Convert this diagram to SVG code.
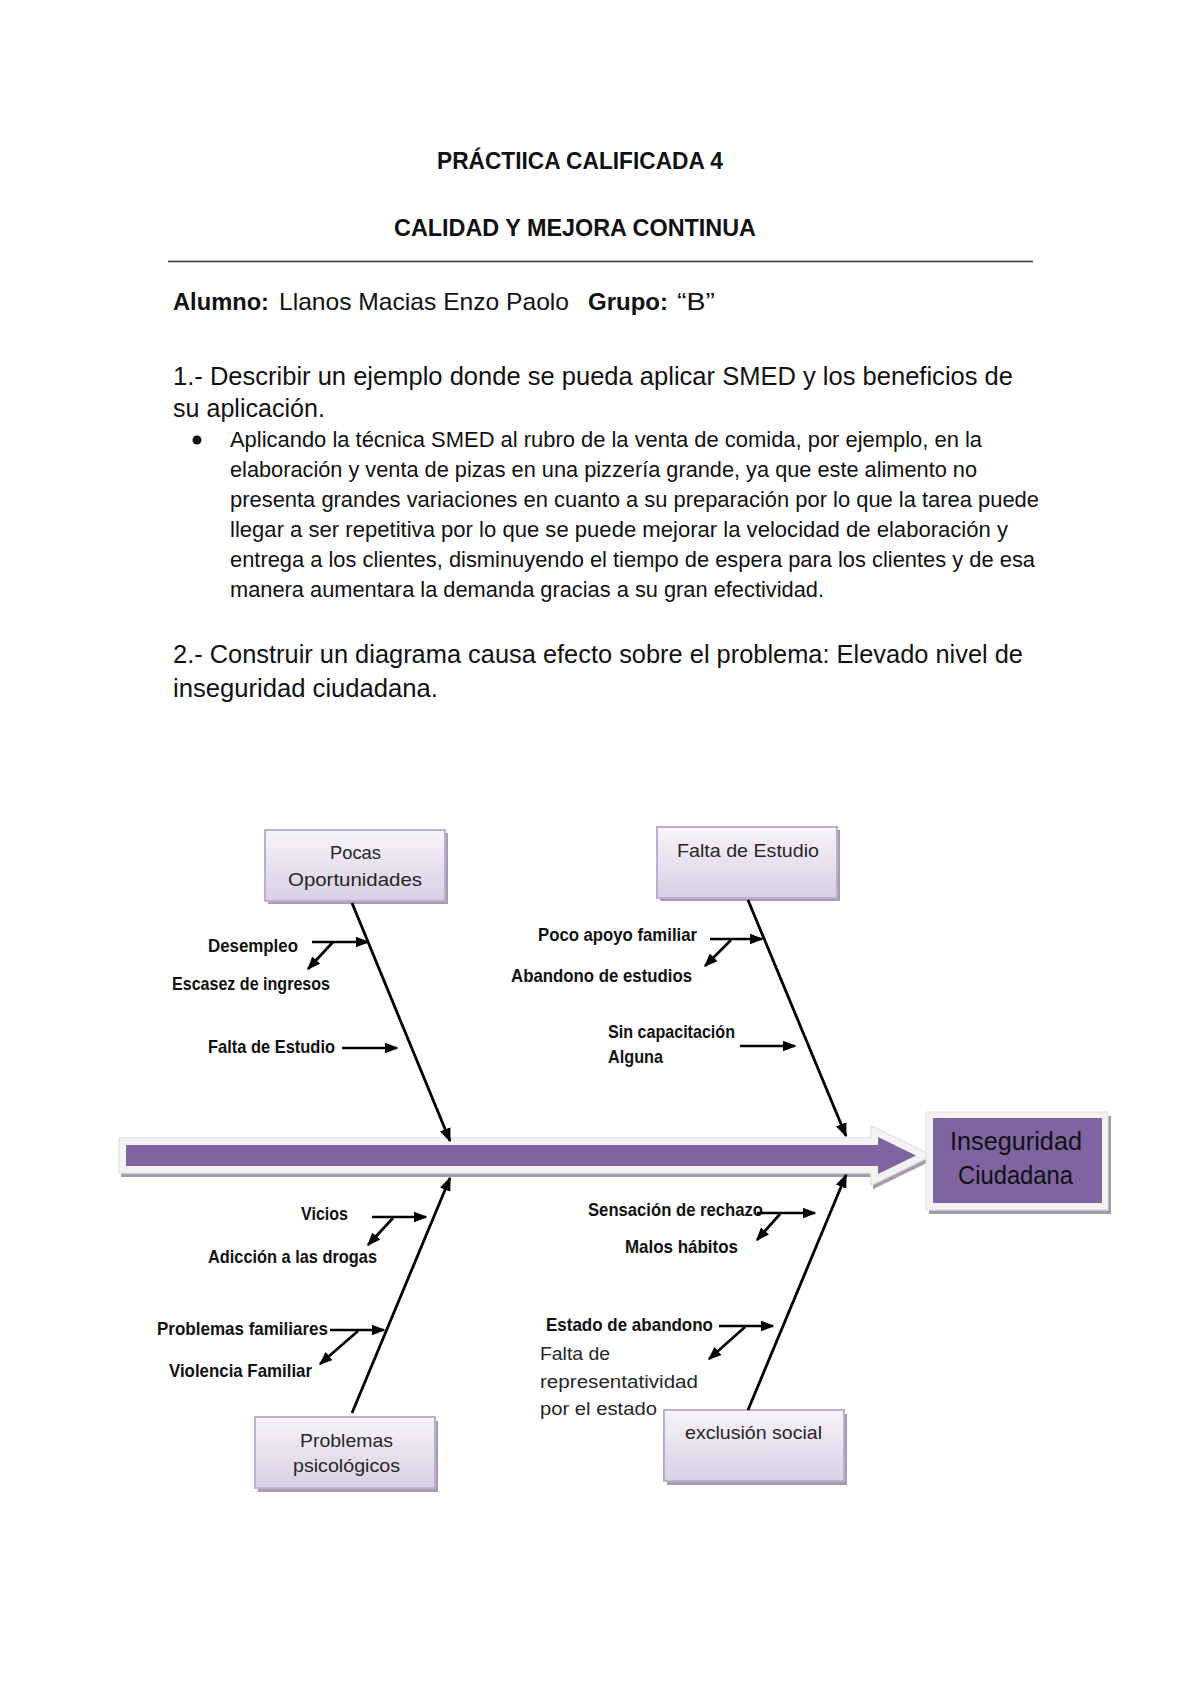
<svg xmlns="http://www.w3.org/2000/svg" width="1200" height="1698" viewBox="0 0 1200 1698">
<defs>
<linearGradient id="boxg" x1="0" y1="0" x2="0" y2="1">
<stop offset="0" stop-color="#f7f4fa"/>
<stop offset="1" stop-color="#d9cfe5"/>
</linearGradient>
<marker id="ah" viewBox="0 0 10 8" refX="9" refY="4" markerWidth="5" markerHeight="4.2" orient="auto" markerUnits="strokeWidth">
<path d="M0,0 L10,4 L0,8 z" fill="#000"/>
</marker>
<style>
.doc{font-family:"Liberation Sans",Arial,sans-serif;fill:#111;}
.b{font-weight:bold;}
.t1{font-size:23px;font-weight:bold;}
.big{font-size:25.5px;}
.al{font-size:24px;}
.bul{font-size:22px;}
.lbl{font-family:"Liberation Sans",Arial,sans-serif;font-size:18.5px;font-weight:bold;fill:#111;}
.reg{font-family:"Liberation Sans",Arial,sans-serif;font-size:17.5px;fill:#262626;}
.bx{fill:url(#boxg);stroke:#bcaed0;stroke-width:2;}
.bxs{fill:#a79cb4;}
.bxt{font-family:"Liberation Sans",Arial,sans-serif;font-size:18.5px;fill:#262626;}
.bone{stroke:#000;stroke-width:2.8;fill:none;marker-end:url(#ah);}
.sm{stroke:#000;stroke-width:2.7;fill:none;marker-end:url(#ah);}
</style>
</defs>
<rect width="1200" height="1698" fill="#fff"/>

<g id="header" class="doc">
<text class="t1" x="437" y="169" textLength="286" lengthAdjust="spacingAndGlyphs">PRÁCTIICA CALIFICADA 4</text>
<text class="t1" x="394" y="236" textLength="362" lengthAdjust="spacingAndGlyphs">CALIDAD Y MEJORA CONTINUA</text>
<line x1="168" y1="261.5" x2="1033" y2="261.5" stroke="#333" stroke-width="1.4"/>
<text class="al b" x="173" y="310" textLength="96" lengthAdjust="spacingAndGlyphs">Alumno:</text>
<text class="al" x="279" y="310" textLength="290" lengthAdjust="spacingAndGlyphs">Llanos Macias Enzo Paolo</text>
<text class="al b" x="588" y="310" textLength="80" lengthAdjust="spacingAndGlyphs">Grupo:</text>
<text class="al" x="677" y="310" textLength="38" lengthAdjust="spacingAndGlyphs">“B”</text>
<text class="big" x="173" y="385" textLength="840" lengthAdjust="spacingAndGlyphs">1.- Describir un ejemplo donde se pueda aplicar SMED y  los beneficios de</text>
<text class="big" x="173" y="417" textLength="152" lengthAdjust="spacingAndGlyphs">su aplicación.</text>
<circle cx="197" cy="440" r="4.5" fill="#111"/>
<text class="bul" x="230" y="447" textLength="752" lengthAdjust="spacingAndGlyphs">Aplicando la técnica SMED al rubro de la venta de comida, por ejemplo, en la</text>
<text class="bul" x="230" y="477" textLength="747" lengthAdjust="spacingAndGlyphs">elaboración y venta de pizas en una pizzería grande, ya que este alimento no</text>
<text class="bul" x="230" y="507" textLength="809" lengthAdjust="spacingAndGlyphs">presenta grandes variaciones en cuanto a su preparación por lo que la tarea puede</text>
<text class="bul" x="230" y="537" textLength="778" lengthAdjust="spacingAndGlyphs">llegar a ser repetitiva por lo que se puede mejorar la velocidad de elaboración y</text>
<text class="bul" x="230" y="567" textLength="805" lengthAdjust="spacingAndGlyphs">entrega a los clientes, disminuyendo el tiempo de espera para los clientes y de esa</text>
<text class="bul" x="230" y="597" textLength="594" lengthAdjust="spacingAndGlyphs">manera aumentara la demanda gracias a su gran efectividad.</text>
<text class="big" x="173" y="663" textLength="850" lengthAdjust="spacingAndGlyphs">2.- Construir un diagrama causa efecto sobre el problema: Elevado nivel de</text>
<text class="big" x="173" y="697" textLength="265" lengthAdjust="spacingAndGlyphs">inseguridad ciudadana.</text>
</g>

<g id="spine">
<polygon points="126,1145 878,1145 878,1137 916,1155.5 878,1174 878,1166 126,1166" transform="translate(2,4)" fill="#a49cae" stroke="#a49cae" stroke-width="14"/>
<polygon points="126,1145 878,1145 878,1137 916,1155.5 878,1174 878,1166 126,1166" fill="#f3f3f3" stroke="#e2e2e2" stroke-width="15.5"/>
<polygon points="126,1145 878,1145 878,1137 916,1155.5 878,1174 878,1166 126,1166" fill="#f3f3f3" stroke="#f3f3f3" stroke-width="13"/>
<polygon points="126,1145 878,1145 878,1137 916,1155.5 878,1174 878,1166 126,1166" fill="#8064a2"/>
</g>

<g id="effect">
<rect x="929" y="1116" width="182" height="98" fill="#a49cae"/>
<rect x="926" y="1112" width="182" height="98" fill="#f3f3f3" stroke="#e0e0e0" stroke-width="1"/>
<rect x="933" y="1118" width="169" height="85" fill="#8064a2"/>
<text class="doc" x="950" y="1150" font-size="25.5" textLength="132" lengthAdjust="spacingAndGlyphs">Inseguridad</text>
<text class="doc" x="958" y="1184" font-size="25.5" textLength="115" lengthAdjust="spacingAndGlyphs">Ciudadana</text>
</g>

<g id="cause-pocas">
<rect class="bxs" x="268" y="833" width="180" height="71"/>
<rect class="bx" x="265" y="830" width="180" height="71"/>
<text class="bxt" x="330" y="859" textLength="51" lengthAdjust="spacingAndGlyphs">Pocas</text>
<text class="bxt" x="288" y="886" textLength="134" lengthAdjust="spacingAndGlyphs">Oportunidades</text>
</g>

<g id="cause-estudio">
<rect class="bxs" x="660" y="830" width="180" height="71"/>
<rect class="bx" x="657" y="827" width="180" height="71"/>
<text class="bxt" x="677" y="857" textLength="142" lengthAdjust="spacingAndGlyphs">Falta de Estudio</text>
</g>

<g id="cause-psico">
<rect class="bxs" x="258" y="1421" width="180" height="71"/>
<rect class="bx" x="255" y="1417" width="180" height="71"/>
<text class="bxt" x="300" y="1447" textLength="93" lengthAdjust="spacingAndGlyphs">Problemas</text>
<text class="bxt" x="293" y="1472" textLength="107" lengthAdjust="spacingAndGlyphs">psicológicos</text>
</g>

<g id="cause-exclusion">
<rect class="bxs" x="667" y="1414" width="180" height="71"/>
<rect class="bx" x="664" y="1410" width="180" height="71"/>
<text class="bxt" x="685" y="1439" textLength="137" lengthAdjust="spacingAndGlyphs">exclusión social</text>
</g>

<g id="labels">
<text class="lbl" x="208" y="952" textLength="90" lengthAdjust="spacingAndGlyphs">Desempleo</text>
<text class="lbl" x="172" y="990" textLength="158" lengthAdjust="spacingAndGlyphs">Escasez de ingresos</text>
<text class="lbl" x="208" y="1053" textLength="127" lengthAdjust="spacingAndGlyphs">Falta de Estudio</text>
<text class="lbl" x="538" y="941" textLength="159" lengthAdjust="spacingAndGlyphs">Poco apoyo familiar</text>
<text class="lbl" x="511" y="982" textLength="181" lengthAdjust="spacingAndGlyphs">Abandono de estudios</text>
<text class="lbl" x="608" y="1038" textLength="127" lengthAdjust="spacingAndGlyphs">Sin capacitación</text>
<text class="lbl" x="608" y="1063" textLength="55" lengthAdjust="spacingAndGlyphs">Alguna</text>
<text class="lbl" x="301" y="1220" textLength="47" lengthAdjust="spacingAndGlyphs">Vicios</text>
<text class="lbl" x="208" y="1263" textLength="169" lengthAdjust="spacingAndGlyphs">Adicción a las drogas</text>
<text class="lbl" x="157" y="1335" textLength="171" lengthAdjust="spacingAndGlyphs">Problemas familiares</text>
<text class="lbl" x="169" y="1377" textLength="143" lengthAdjust="spacingAndGlyphs">Violencia Familiar</text>
<text class="lbl" x="588" y="1216" textLength="175" lengthAdjust="spacingAndGlyphs">Sensación de rechazo</text>
<text class="lbl" x="625" y="1253" textLength="113" lengthAdjust="spacingAndGlyphs">Malos hábitos</text>
<text class="lbl" x="546" y="1331" textLength="167" lengthAdjust="spacingAndGlyphs">Estado de abandono</text>
<text class="reg" x="540" y="1360" textLength="70" lengthAdjust="spacingAndGlyphs">Falta de</text>
<text class="reg" x="540" y="1388" textLength="158" lengthAdjust="spacingAndGlyphs">representatividad</text>
<text class="reg" x="540" y="1415" textLength="117" lengthAdjust="spacingAndGlyphs">por el estado</text>
</g>

<g id="connectors">
<line class="bone" x1="352" y1="903" x2="450" y2="1141"/>
<line class="bone" x1="748" y1="900" x2="846" y2="1136"/>
<line class="bone" x1="352" y1="1413" x2="450" y2="1178"/>
<line class="bone" x1="748" y1="1410" x2="846" y2="1175"/>
<line class="sm" x1="312" y1="942" x2="368" y2="942"/>
<line class="sm" x1="333" y1="942" x2="308" y2="969"/>
<line class="sm" x1="342" y1="1048" x2="397" y2="1048"/>
<line class="sm" x1="710" y1="939" x2="762" y2="939"/>
<line class="sm" x1="731" y1="940" x2="705" y2="966"/>
<line class="sm" x1="740" y1="1046" x2="795" y2="1046"/>
<line class="sm" x1="372" y1="1217" x2="426" y2="1217"/>
<line class="sm" x1="393" y1="1218" x2="368" y2="1245"/>
<line class="sm" x1="330" y1="1330" x2="384" y2="1330"/>
<line class="sm" x1="358" y1="1331" x2="320" y2="1364"/>
<line class="sm" x1="757" y1="1213" x2="815" y2="1213"/>
<line class="sm" x1="780" y1="1214" x2="757" y2="1240"/>
<line class="sm" x1="719" y1="1326" x2="773" y2="1326"/>
<line class="sm" x1="745" y1="1327" x2="709" y2="1359"/>
</g>
</svg>
